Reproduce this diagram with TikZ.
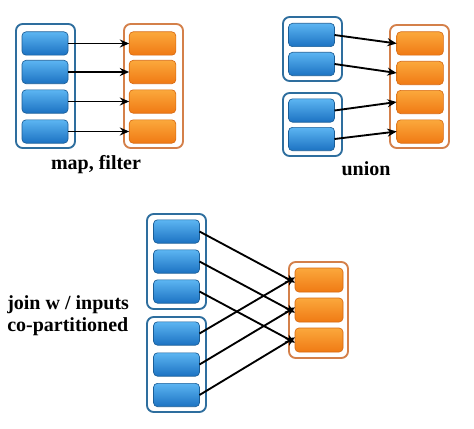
\documentclass[tikz,border=0pt]{standalone}
\usepackage{fontspec}
\setmainfont{Liberation Serif}
\usetikzlibrary{arrows.meta}
\definecolor{bluetop}{HTML}{5CB5F2}
\definecolor{bluebot}{HTML}{1C72C2}
\definecolor{blueedge}{HTML}{1A5E98}
\definecolor{orgtop}{HTML}{FBA83C}
\definecolor{orgbot}{HTML}{F07A14}
\definecolor{orgedge}{HTML}{D86A12}
\definecolor{contblue}{HTML}{2E6E9E}
\definecolor{contorg}{HTML}{D4804A}
\tikzset{
  bbox/.style={rectangle, rounded corners=3pt, inner sep=0pt, outer sep=0pt,
    minimum width=34.5pt, minimum height=17.5pt, draw=blueedge, line width=0.5pt,
    top color=bluetop, bottom color=bluebot},
  obox/.style={rectangle, rounded corners=3pt, inner sep=0pt, outer sep=0pt,
    minimum width=35pt, minimum height=17.5pt, draw=orgedge, line width=0.5pt,
    top color=orgtop, bottom color=orgbot},
  bcont/.style={rectangle, rounded corners=5pt, inner sep=0pt, outer sep=0pt,
    draw=contblue, line width=1.4pt, fill=white, minimum width=44.25pt},
  ocont/.style={rectangle, rounded corners=5pt, inner sep=0pt, outer sep=0pt,
    draw=contorg, line width=1.4pt, fill=white, minimum width=44.25pt},
  arr/.style={-{Stealth[length=7pt,width=6pt]}, line width=1.4pt, black},
  lbl/.style={font=\fontsize{15}{16.5}\selectfont\bfseries, inner sep=0pt}
}
\begin{document}
\begin{tikzpicture}[x=0.75pt,y=-0.75pt]
\useasboundingbox (0,0) rectangle (474,428);
% ---------- map, filter ----------
\node[bcont, minimum height=93pt] (mc1) at (45.5,86) {};
\node[ocont, minimum height=93pt] (mc2) at (153.5,86) {};
\foreach \i/\y in {1/43.5,2/72,3/101.5,4/131.5}{
  \node[bbox] (mb\i) at (45,\y) {};
  \node[obox] (mo\i) at (152.5,\y) {};
}
\foreach \i in {1,2,3,4}{ \draw[arr] (mb\i.east) -- (mo\i.west); }
\node[lbl] (ml) at (96,165) {map, filter};
% ---------- union ----------
\node[bcont, minimum height=48pt] (uc1) at (312.5,49) {};
\node[bcont, minimum height=47.25pt] (uc2) at (312.5,124.5) {};
\node[ocont, minimum height=92.25pt] (uc3) at (419.5,86.5) {};
\foreach \i/\y in {1/35,2/64,3/110.5,4/139}{ \node[bbox] (ub\i) at (311.5,\y) {}; }
\foreach \i/\y in {1/43.5,2/73,3/102,4/131.5}{ \node[obox] (uo\i) at (420,\y) {}; }
\foreach \i in {1,2,3,4}{ \draw[arr] (ub\i.east) -- (uo\i.west); }
\node[lbl] (ul) at (366,169) {union};
% ---------- join ----------
\node[bcont, minimum height=71.25pt] (jc1) at (176.5,261.5) {};
\node[bcont, minimum height=71.25pt] (jc2) at (176.5,364.5) {};
\node[ocont, minimum height=72pt] (jc3) at (318.5,310) {};
\foreach \i/\y in {1/231.5,2/261.5,3/291.5,4/333.5,5/364.5,6/395}{ \node[bbox] (jb\i) at (176.5,\y) {}; }
\foreach \i/\y in {1/280,2/310,3/340}{ \node[obox, minimum width=36pt, minimum height=18pt] (jo\i) at (319,\y) {}; }
\draw[arr] (jb1.east) -- ([yshift=-2pt]jo1.west);
\draw[arr] (jb2.east) -- ([yshift=-2pt]jo2.west);
\draw[arr] (jb3.east) -- ([yshift=-2pt]jo3.west);
\draw[arr] (jb4.east) -- ([yshift=2pt]jo1.west);
\draw[arr] (jb5.east) -- ([yshift=2pt]jo2.west);
\draw[arr] (jb6.east) -- ([yshift=2pt]jo3.west);
\node[lbl, anchor=west, align=left] (jl) at (7,316) {join w / inputs\\co-partitioned};
\end{tikzpicture}
\end{document}
